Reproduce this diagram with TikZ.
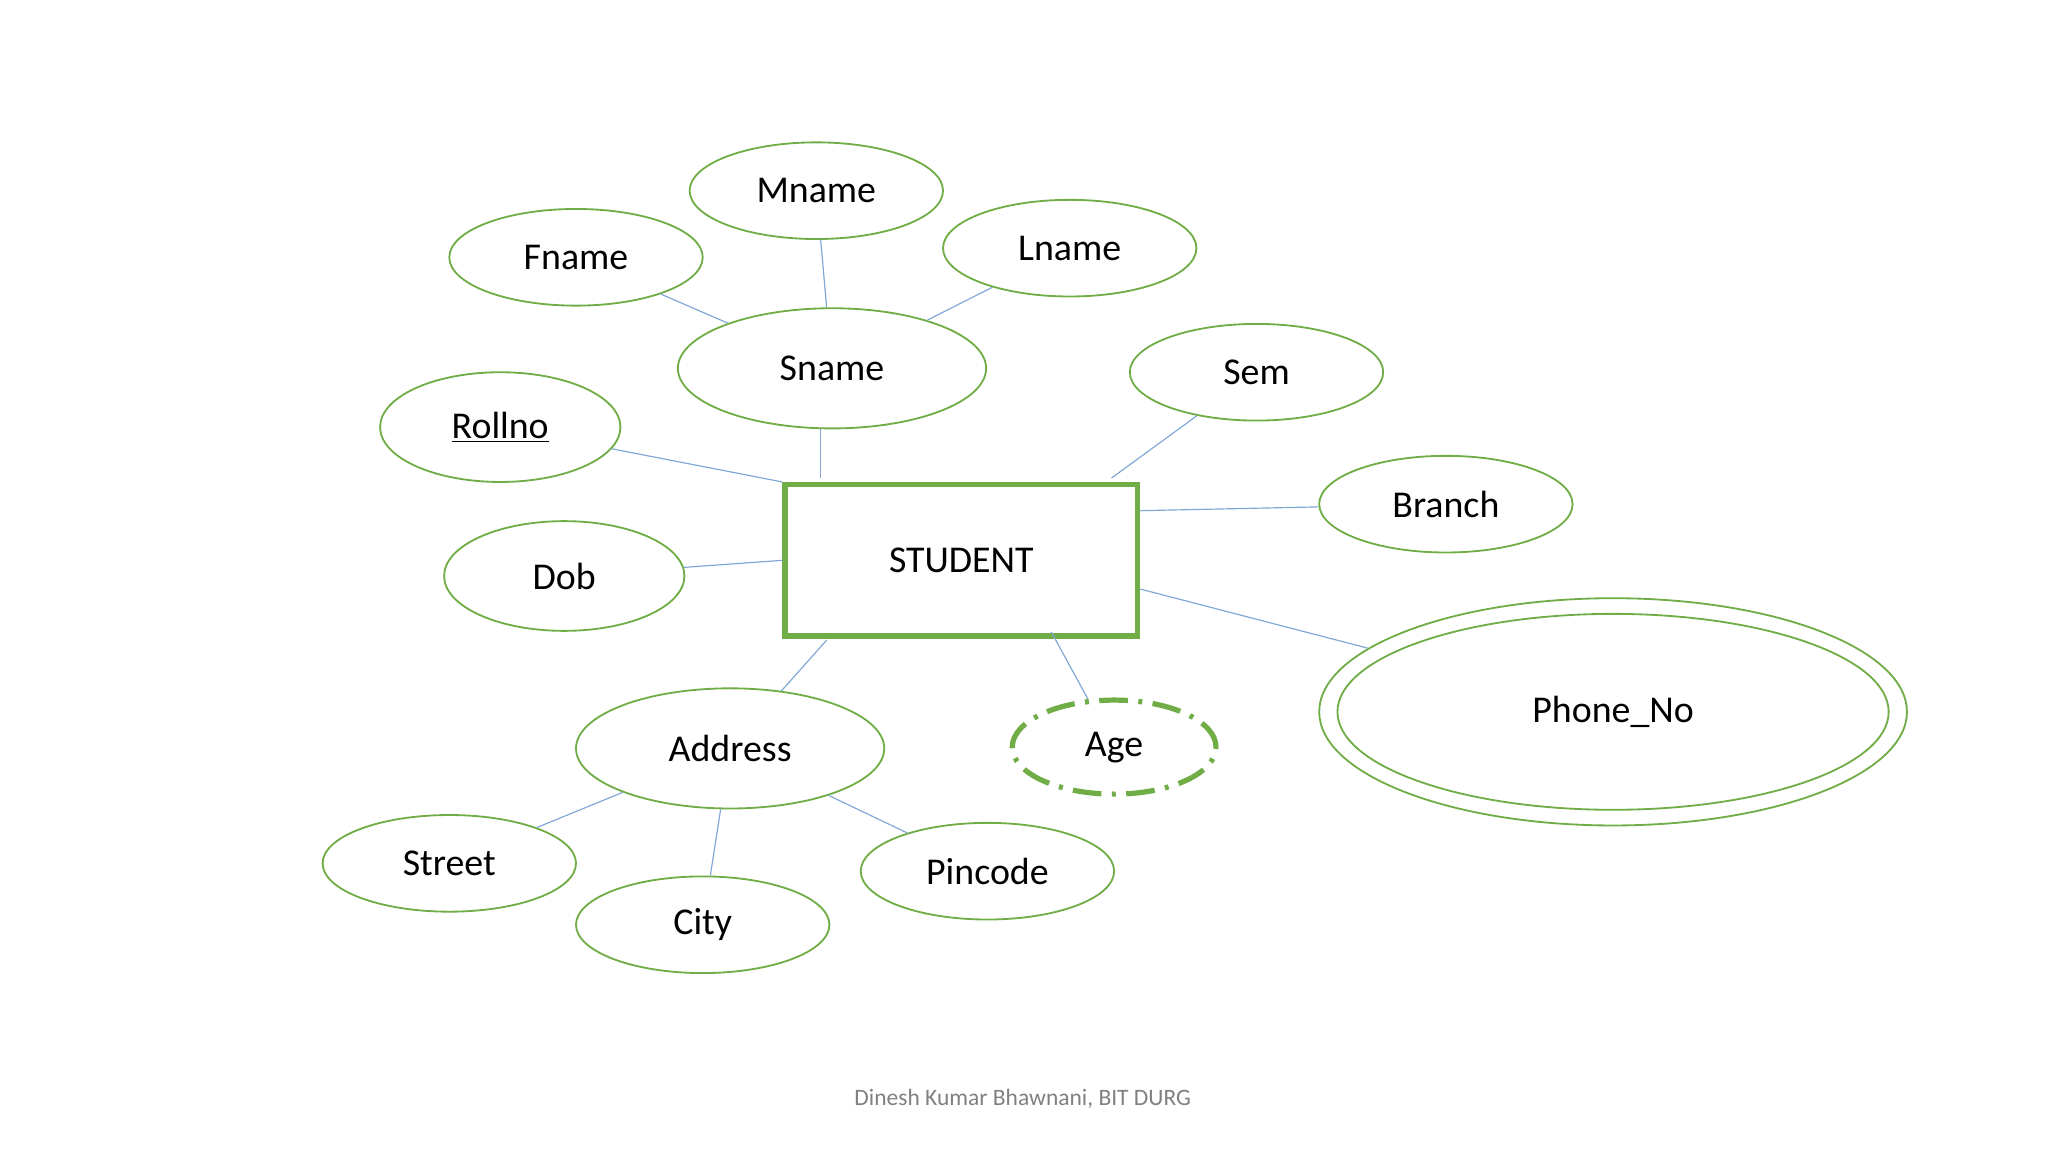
\documentclass[tikz,border=0pt]{standalone}
\usepackage{fontspec}
\setmainfont{Carlito}
\usetikzlibrary{shapes.geometric}
\definecolor{grn}{HTML}{70AD47}
\definecolor{lnk}{HTML}{7FA7D6}
\begin{document}
\begin{tikzpicture}[x=1pt,y=-1pt,
  attr/.style={ellipse,draw=grn,line width=1.4pt,inner sep=0pt,font=\fontsize{29}{34}\selectfont},
  a1/.style={attr,minimum width=194pt,minimum height=74pt},
  a2/.style={attr,minimum width=236pt,minimum height=92pt},
  a3/.style={attr,minimum width=184pt,minimum height=84pt},
  con/.style={draw=lnk,line width=0.9pt}]
\useasboundingbox (0,0) rectangle (1568,882);
\node[a1] (mname) at (625,146) {Mname};
\node[a1] (fname) at (441,197) {Fname};
\node[a1] (lname) at (819,190) {Lname};
\node[a2] (sname) at (637,282) {Sname};
\node[a3] (roll) at (383,327) {\underline{Rollno}};
\node[a1] (sem) at (962,285) {Sem};
\node[a1] (branch) at (1107,386) {Branch};
\node[a3] (dob) at (432,441) {Dob};
\node[draw=grn,line width=4pt,minimum width=270pt,minimum height=116pt,font=\fontsize{29}{34}\selectfont] (stu) at (736,429) {STUDENT};
\node[attr,minimum width=450pt,minimum height=174pt] (phone) at (1235,545) {};
\node[attr,minimum width=422pt,minimum height=150pt] (phin) at (1235,545) {Phone\_No};
\node[a2] (addr) at (559,573) {Address};
\node[attr,line width=4pt,dash pattern=on 22pt off 8pt on 3pt off 8pt,minimum width=156pt,minimum height=72pt] (age) at (853,572) {Age};
\node[a1] (street) at (344,661) {Street};
\node[a1] (city) at (538,708) {City};
\node[a1] (pin) at (756,667) {Pincode};
\node[text=gray,font=\fontsize{18}{22}\selectfont] (foot) at (783,841) {Dinesh Kumar Bhawnani, BIT DURG};
\draw[con] (fname) -- (sname);
\draw[con] (mname) -- (sname);
\draw[con] (lname) -- (sname);
\draw[con] (sname.south -| 628,0) -- (628,366);
\draw[con] (roll) -- (stu.north west);
\draw[con] (dob) -- (stu.west);
\draw[con] (sem) -- (851,366);
\draw[con] (branch) -- (stu.north east |- 0,391);
\draw[con] (phone) -- (stu.east |- 0,451);
\draw[con] (633,490) -- (addr);
\draw[con] (805,484) -- (age);
\draw[con] (addr) -- (street);
\draw[con] (addr) -- (city);
\draw[con] (addr) -- (pin);
\end{tikzpicture}
\end{document}
